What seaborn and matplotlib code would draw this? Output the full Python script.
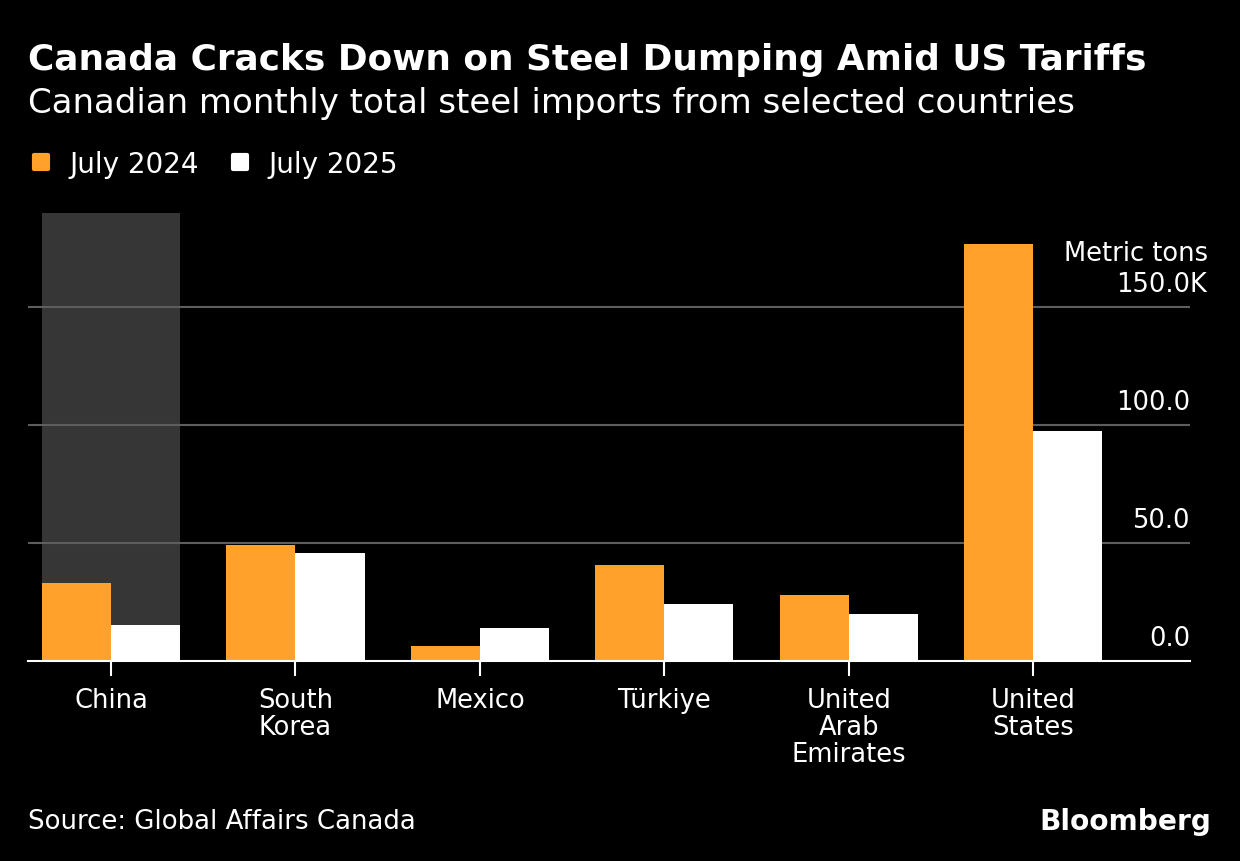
import pandas as pd
import numpy as np
import matplotlib.pyplot as plt
import seaborn as sns
from matplotlib.lines import Line2D
from matplotlib.markers import MarkerStyle

# ── data (thousand metric tons) ──────────────────────────────────────────────
countries = ["China", "South\nKorea", "Mexico", "Türkiye", "United\nArab\nEmirates", "United\nStates"]
july_2024 = [33.0, 49.2, 6.4, 40.7, 28.0, 176.7]
july_2025 = [15.3, 45.8, 14.0, 24.2, 19.9, 97.5]
series = ["July 2024", "July 2025"]
yticks = [0, 50, 100, 150]
ytick_labels = ["0.0", "50.0", "100.0", "150.0"]
unit_suffix = "K"

df = pd.DataFrame({
    "country": countries * 2,
    "value": july_2024 + july_2025,
    "year": [series[0]] * len(countries) + [series[1]] * len(countries),
})

ORANGE = "#ffa12b"
BG = "#000000"

sns.set_theme(style="dark")
plt.rcParams["font.family"] = ["DejaVu Sans"]

fig = plt.figure(figsize=(12.4, 8.62), dpi=100, facecolor=BG)
ax = fig.add_axes([28 / 1240, 1 - 662 / 862, (1190 - 28) / 1240, (662 - 214) / 862])
ax.set_facecolor(BG)

bar_w = 0.75
# highlight band behind China
ax.axvspan(-bar_w / 2, bar_w / 2, color="#363636", zorder=0, lw=0)

sns.barplot(data=df, x="country", y="value", hue="year", palette=[ORANGE, "white"],
            width=bar_w, gap=0, saturation=1, ax=ax, legend=False, zorder=2)
for p in ax.patches:
    p.set_linewidth(0)

ax.set_xlim(-0.45, 5.85)
ax.set_ylim(0, 190)

# gridlines + right-side labels (numbers right-aligned to the grid end)
for v, lab in zip(yticks, ytick_labels):
    if v > 0:
        ax.axhline(v, color="#5e5e5e", lw=1.5, zorder=1)
    ax.text(1.0, v + 9.7, lab, transform=ax.get_yaxis_transform(), ha="right",
            va="center", color="white", fontsize=18.5)
ax.text(1.0, yticks[-1] + 9.7, unit_suffix, transform=ax.get_yaxis_transform(), ha="left",
        va="center", color="white", fontsize=18.5)
ax.text(1.0155, 172.9, "Metric tons", transform=ax.get_yaxis_transform(), ha="right",
        va="center", color="white", fontsize=18.5)

ax.set_yticks([])
ax.set_xlabel("")
ax.set_ylabel("")
ax.grid(False)
for s in ["top", "right", "left"]:
    ax.spines[s].set_visible(False)
ax.spines["bottom"].set_color("white")
ax.spines["bottom"].set_linewidth(1.5)
ax.tick_params(axis="x", colors="white", labelsize=18.5, length=11, width=1.5,
               direction="out", bottom=True, pad=8)
for t in ax.get_xticklabels():
    t.set_linespacing(1.05)

# titles
fig.text(28 / 1240, 1 - 60 / 862, "Canada Cracks Down on Steel Dumping Amid US Tariffs",
         color="white", fontsize=25.8, fontweight="bold", va="center", ha="left")
fig.text(28 / 1240, 1 - 103 / 862, "Canadian monthly total steel imports from selected countries",
         color="white", fontsize=24.5, va="center", ha="left")

sq = MarkerStyle("s", joinstyle="round")
handles = [Line2D([], [], marker=sq, ls="", markersize=10, color=c, markeredgecolor=c,
                  markeredgewidth=3) for c in [ORANGE, "white"]]
leg = fig.legend(handles, series, loc="center left", bbox_to_anchor=(27.5 / 1240, 1 - 165 / 862),
                 ncol=2, frameon=False, fontsize=20, handletextpad=0.5, columnspacing=1.0,
                 handlelength=1.0, borderpad=0, borderaxespad=0)
for t in leg.get_texts():
    t.set_color("white")

fig.text(28 / 1240, 1 - 822 / 862, "Source: Global Affairs Canada", color="white",
         fontsize=18.7, va="center", ha="left")
fig.text(1211 / 1240, 1 - 822 / 862, "Bloomberg", color="white", fontsize=20.2,
         fontweight="bold", va="center", ha="right")

plt.savefig("out.png", dpi=100, facecolor=BG)
plt.close()
